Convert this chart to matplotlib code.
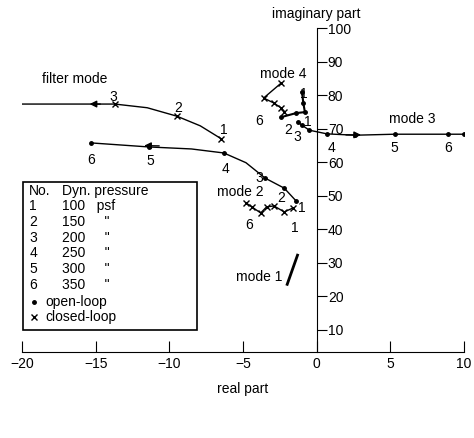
import matplotlib.pyplot as plt

# filter mode
filt_cl_re = [-20.0, -15.3, -13.7, -11.5, -9.5, -7.9, -6.5]
filt_cl_im = [77.3, 77.3, 77.3, 76.2, 73.7, 70.8, 67.0]
filt_ol_re = [-15.3, -11.4, -8.5, -6.3, -4.8, -3.5, -2.2, -1.4]
filt_ol_im = [65.7, 64.5, 63.9, 62.7, 59.8, 55.2, 52.2, 48.4]

# mode 2 closed loop
m2_re = [-1.6, -2.2, -2.9, -3.4, -3.8, -4.4, -4.8]
m2_im = [46.3, 45.1, 46.9, 46.6, 44.8, 46.6, 47.8]

# mode 4
m4_cl_re = [-2.4, -3.6, -2.9, -2.4, -2.2]
m4_cl_im = [83.6, 79.1, 77.6, 76.1, 75.0]
m4_ol_re = [-1.0, -0.9, -0.8, -1.4, -2.4]
m4_ol_im = [80.9, 77.5, 74.9, 74.6, 73.4]

# mode 3
m3_re = [-1.3, -1.0, -0.5, 0.7, 2.6, 5.3, 8.9, 10.0]
m3_im = [72.0, 71.0, 69.5, 68.4, 68.0, 68.3, 68.3, 68.3]

# mode 1
m1_re = [-2.0, -1.3]
m1_im = [23.5, 32.2]

yticks = [10, 20, 30, 40, 50, 60, 70, 80, 90, 100]
xticks = [-20, -15, -10, -5, 0, 5, 10]

plt.rcParams['font.family'] = ['Liberation Sans', 'DejaVu Sans']
fig = plt.figure(figsize=(4.74, 4.38), dpi=100)
ax = fig.add_axes([22 / 474, 1 - 352 / 438, 442 / 474, 324 / 438])
ax.set_xlim(-20, 10)
ax.set_ylim(3.3, 100)

k = dict(color='black', lw=1)
ax.plot(filt_cl_re, filt_cl_im, **k)
ax.plot([filt_cl_re[i] for i in (2, 4, 6)], [filt_cl_im[i] for i in (2, 4, 6)], 'x', color='black', ms=4)
ax.plot(filt_ol_re, filt_ol_im, **k)
ax.plot([filt_ol_re[i] for i in (0, 1, 3, 5, 6, 7)], [filt_ol_im[i] for i in (0, 1, 3, 5, 6, 7)],
        'o', color='black', ms=2.5)
ax.plot(m2_re, m2_im, 'x-', color='black', lw=1, ms=4)
ax.plot(m4_cl_re, m4_cl_im, 'x-', color='black', lw=1, ms=4)
ax.plot(m4_ol_re, m4_ol_im, 'o-', color='black', lw=1.5, ms=2.5)
ax.plot(m3_re, m3_im, 'o-', color='black', lw=1, ms=2.5)
ax.plot(m1_re, m1_im, color='black', lw=2)
# arrows
for (x0, y0, x1, y1) in [(-14.5, 77.3, -15.6, 77.3), (-10.5, 64.8, -11.9, 64.9), (1.8, 68.1, 3.2, 68.1)]:
    ax.annotate('', xy=(x1, y1), xytext=(x0, y0),
                arrowprops=dict(arrowstyle='-|>', color='black', lw=1, mutation_scale=10))

fs = 10
labels = [
    ('3', -13.8, 79.5), ('2', -9.4, 76), ('1', -6.3, 69.5),
    ('6', -15.3, 60.5), ('5', -11.3, 60.2), ('4', -6.2, 57.8), ('3', -3.9, 55.2),
    ('2', -2.4, 49.2), ('1', -1.0, 46.3), ('6', -4.6, 41.2), ('1', -1.5, 40.2),
    ('1', -0.9, 80.2), ('6', -3.9, 72.2), ('2', -1.9, 69.6), ('3', -1.3, 67.6),
    ('1', -0.6, 71.8), ('4', 1.0, 64.2), ('5', 5.3, 64.2), ('6', 8.9, 64.2),
]
for t, x, y in labels:
    ax.text(x, y, t, fontsize=fs, ha='center', va='center')
ax.text(-16.4, 83.5, 'filter mode', fontsize=fs, ha='center')
ax.text(-2.3, 85.2, 'mode 4', fontsize=fs, ha='center')
ax.text(6.5, 71.5, 'mode 3', fontsize=fs, ha='center')
ax.text(-5.2, 49.8, 'mode 2', fontsize=fs, ha='center')
ax.text(-3.9, 24.5, 'mode 1', fontsize=fs, ha='center')

# legend table
rows = [('No.', 'Dyn. pressure'), ('1', '100   psf'), ('2', '150     "'), ('3', '200     "'),
        ('4', '250     "'), ('5', '300     "'), ('6', '350     "')]
ax.add_patch(plt.Rectangle((-19.9, 9.8), 11.8, 44.2, fill=False, lw=1.2))
for i, (a, b) in enumerate(rows):
    y = 51.5 - i * 4.7
    ax.text(-19.5, y, a, fontsize=fs, va='center')
    ax.text(-17.3, y, b, fontsize=fs, va='center')
ax.plot([-19.2], [18.3], 'o', color='black', ms=2.5)
ax.text(-18.4, 18.3, 'open-loop', fontsize=fs, va='center')
ax.plot([-19.2], [13.6], 'x', color='black', ms=4)
ax.text(-18.4, 13.6, 'closed-loop', fontsize=fs, va='center')

for s in ['top', 'left']:
    ax.spines[s].set_visible(False)
ax.spines['right'].set_position(('data', 0))
ax.spines['right'].set_bounds(3.3, 100)
ax.yaxis.tick_right()
ax.set_yticks(yticks)
ax.set_xticks(xticks)
ax.tick_params(axis='y', direction='out', length=7, labelsize=fs, pad=1)
ax.tick_params(axis='x', direction='in', length=8, labelsize=fs)
ax.text(0, 102, 'imaginary part', fontsize=fs, ha='center', va='bottom')
ax.set_xlabel('real part', fontsize=fs, labelpad=8)

fig.savefig('out.png', dpi=100)
